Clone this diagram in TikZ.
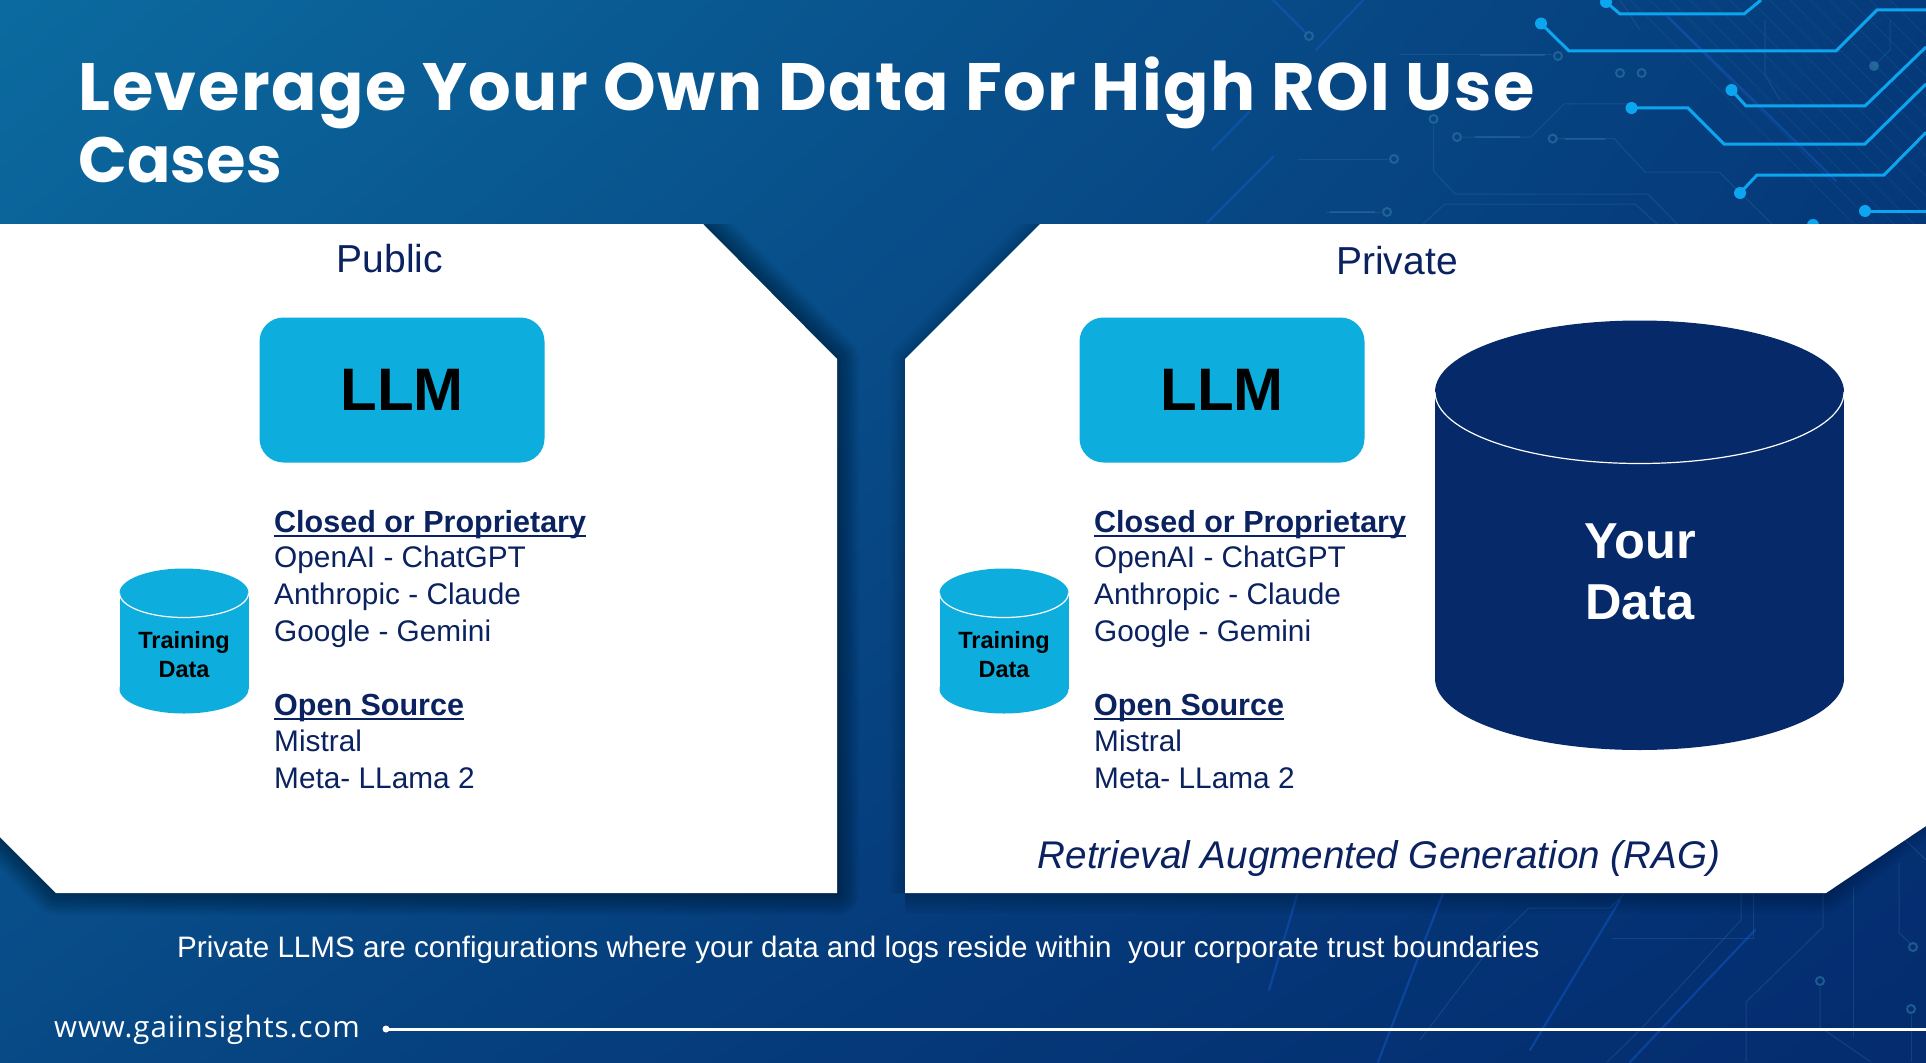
\documentclass[tikz,border=0pt]{standalone}
\usepackage{fontspec}
\usetikzlibrary{calc}
\setmainfont{Liberation Sans}
\newfontfamily\titlefont{Poppins}[UprightFont=* Bold]
\newfontfamily\titlewide{Poppins}[UprightFont=* Bold,LetterSpace=2.2]
\newfontfamily\urlfont{Open Sans}[LetterSpace=3.2]
\definecolor{navy}{HTML}{06296A}
\definecolor{textnavy}{HTML}{0B2260}
\definecolor{llmblue}{HTML}{0DADDD}
\definecolor{trace}{HTML}{0CA6F0}
\definecolor{faint}{HTML}{2F78A8}
\definecolor{glow}{HTML}{1560D8}
\pgfdeclarefunctionalshading{bgshade}{\pgfpoint{-50bp}{-50bp}}{\pgfpoint{50bp}{50bp}}{}{
 50 add 100 div 1.2 mul dup 1 gt {pop 1} if
 exch 50 add 100 div 1 exch sub
 2 copy mul
 3 1 roll
 dup dup mul mul 0.5 mul
 exch 1 exch sub mul
 add
 dup 0.05 mul 0.01 add exch
 dup 0.40 mul 0.14 add exch
 0.31 mul 0.41 add
}
\tikzset{
 x=1pt,y=-1pt,
 panel/.style={fill=white},
 llmbox/.style={fill=llmblue,rounded corners=24pt,minimum width=285pt,minimum height=145pt,inner sep=0pt,font=\fontsize{60}{60}\selectfont\bfseries,text=black},
 headline/.style={anchor=base,font=\fontsize{39}{39}\selectfont,text=textnavy,inner sep=0pt},
 listtext/.style={anchor=base west,font=\fontsize{29.8}{29.8}\selectfont,text=textnavy,inner sep=0pt},
 listhead/.style={anchor=base west,font=\fontsize{30.5}{30.5}\selectfont\bfseries,text=textnavy,inner sep=0pt},
 traceline/.style={draw=trace,line width=3pt},
 tracedot/.style={fill=trace},
 faintline/.style={draw=faint,line width=1pt,opacity=.3},
 faintring/.style={draw=faint,line width=2pt,opacity=.6},
 glowline/.style={draw=glow,line width=2.2pt,opacity=.4,line cap=round},
 cyltext/.style={anchor=base,font=\fontsize{23.5}{23.5}\selectfont\bfseries,text=black,inner sep=0pt},
 shadowpoly/.style={draw=black,opacity=.035,line join=round},
}
% args: centre x, top-ellipse y, bottom-ellipse y, rx, ry, colour
\newcommand{\drumshape}[6]{%
 \fill[#6] (#1,#3) ellipse [x radius=#4pt,y radius=#5pt];
 \fill[#6] (#1-#4,#2) rectangle (#1+#4,#3);
 \fill[#6] (#1,#2) ellipse [x radius=#4pt,y radius=#5pt];
 \draw[white,line width=1.2pt] (#1-#4,#2) arc [start angle=180,end angle=360,x radius=#4pt,y radius=#5pt];
}
\newcommand{\listing}[1]{%
 \begin{scope}[xshift=#1pt]
 \node[listhead] (a#1) at (274,532) {Closed or Proprietary};
 \draw[textnavy,line width=2pt] ($(a#1.base west)+(0,3.5)$) -- ($(a#1.base east)+(0,3.5)$);
 \node[listtext] (b#1) at (274,567.5) {OpenAI - ChatGPT};
 \node[listtext] (c#1) at (274,604.5) {Anthropic - Claude};
 \node[listtext] (d#1) at (274,641) {Google - Gemini};
 \node[listhead] (e#1) at (274,715) {Open Source};
 \draw[textnavy,line width=2pt] ($(e#1.base west)+(0,3.5)$) -- ($(e#1.base east)+(0,3.5)$);
 \node[listtext] (f#1) at (274,751) {Mistral};
 \node[listtext] (g#1) at (274,788) {Meta- LLama 2};
 \drumshape{184}{593}{689}{64.5}{24.5}{llmblue}
 \node[cyltext] (tr#1) at (184,648) {Training};
 \node[cyltext] (td#1) at (184,677) {Data};
 \node[llmbox] (llm#1) at (402,390) {LLM};
 \end{scope}}
\begin{document}
\begin{tikzpicture}
\useasboundingbox (0,0) rectangle (1926,1062);
\clip (0,0) rectangle (1926,1062);
% background
\shade[shading=bgshade] (0,0) rectangle (1926,1062);
% faint circuit texture, upper right
\foreach \i in {0,...,13} {
  \draw[faintline,opacity=.18] (1630+\i*20,0) -- ++(224,224);
}
\foreach \p in {
 {(1433.5,125) -- (1433.5,171) -- (1455,194) -- (1648,194) -- (1677,224)},
 {(1463,137) -- (1531,137) -- (1564,104) -- (1628,104)},
 {(1558,138.6) -- (1614,138.6) -- (1645,172) -- (1719,172) -- (1772,224)},
 {(1423,224) -- (1445,204) -- (1635,204) -- (1657,224)},
 {(1400,55) -- (1552,55)},
 {(1298,159) -- (1388,159)},
 {(1326,212) -- (1381,212)},
 {(1620,0) -- (1640,30)},
 {(1874,66) -- (1890,50) -- (1890,20)},
 {(1765,20) -- (1765,75) -- (1780,100)},
 {(1529,908) -- (1610,908) -- (1624,894)},
 {(1529,908) -- (1496,940) -- (1420,1040)},
 {(1612,938) -- (1753,938) -- (1753,893)},
 {(1741,893) -- (1741,920) -- (1640,1030) -- (1607,1062)},
 {(1823,893) -- (1823,927) -- (1746,1002) -- (1746,1062)},
 {(1853,887) -- (1853,1037)},
 {(1899,863) -- (1899,933) -- (1910,943)},
 {(1820,987) -- (1820,1027) -- (1871,1062)},
 {(1911,1015) -- (1911,1062)},
 {(1905,840) -- (1926,860)}} {
  \draw[faintline] \p;
}
\foreach \q/\r in {1558/56,1641.6/73,1433.5/119,1457/137,1552.7/138.6,1309/36,1394/159,1387/212,1620/73,1913/947,1820/981,1911/1009} {
  \draw[faintring] (\q,\r) circle [radius=4pt];
}
\fill[faint,opacity=.7] (1874,66) circle [radius=5pt];
% glowing diagonals
\foreach \p in {
 {(1668,17) -- (1836,181)},
 {(1273,0) -- (1305,32)},
 {(1363,0) -- (1316,50)},
 {(1208,222) -- (1273,157)},
 {(1212,150) -- (1249,112)},
 {(1443,893) -- (1378,1062)},
 {(1755,930) -- (1630,1062)},
 {(1297,895) -- (1269,990)},
 {(1620,900) -- (1530,1050)}} {
  \draw[glowline] \p;
}
\draw[faint,line width=2pt,opacity=.4] (1480,55) -- (1545,55);
\draw[faint,line width=2pt,opacity=.4] (1475,137) -- (1520,137);
\draw[faint,line width=2pt,opacity=.4] (1565,139) -- (1605,139);
\draw[faint,line width=2pt,opacity=.4] (1330,212) -- (1375,212);
% bright traces
\draw[traceline] (1606,2) -- (1620,14) -- (1744,14) -- (1761,0);
\draw[traceline] (1541,23.5) -- (1569,51) -- (1836,51) -- (1877,10) -- (1926,10);
\draw[traceline] (1731.5,90) -- (1746,106) -- (1865,106) -- (1926,47);
\draw[traceline] (1631.5,108) -- (1688,108) -- (1724,144) -- (1865,144) -- (1926,84);
\draw[traceline] (1740,193) -- (1757,175) -- (1884,175) -- (1926,132.5);
\draw[traceline] (1865,211) -- (1926,211);
\foreach \q/\r in {1606/2,1541/23.5,1731.5/90,1631.5/108,1740/193,1865/211,1813/225} {
  \fill[tracedot] (\q,\r) circle [radius=6pt];
}
% panel shadows, kept below the header
\begin{scope}
\clip (0,224) rectangle (1926,1062);
\foreach \w in {4,8,...,44} {
  \path[shadowpoly,line width=\w pt] (603,124) -- (837,359) -- (837,893) -- (56,893) -- (-50,787);
}
\foreach \w in {4,10,...,28} {
  \path[shadowpoly,line width=\w pt] (1140,124) -- (905,359) -- (905,893);
}
\foreach \w in {4,10,...,40} {
  \path[shadowpoly,line width=\w pt] (905,893) -- (1826,893) -- (1990,762);
}
\end{scope}
% panels
\fill[panel] (0,224) -- (703,224) -- (837,359) -- (837,893) -- (56,893) -- (0,837) -- cycle;
\fill[panel] (1040,224) -- (1926,224) -- (1926,826) -- (1826,893) -- (905,893) -- (905,359) -- cycle;
% title
\node[anchor=base west,inner sep=0pt,text=white,font=\titlewide\fontsize{67}{67}\selectfont] (title1) at (78.5,111) {Leverage Your Own Data For High ROI Use};
\node[anchor=base west,inner sep=0pt,text=white,font=\titlefont\fontsize{64}{64}\selectfont] (title2) at (78.5,182) {Cases};
% panel headings
\node[headline] (public) at (390,272) {Public};
\node[headline] (private) at (1397,274) {Private};
\listing{0}
\listing{820}
% big cylinder
\drumshape{1639.5}{392}{678.5}{204.5}{71.5}{navy}
\node[anchor=base,inner sep=0pt,text=white,font=\fontsize{50.5}{50.5}\selectfont\bfseries] (your) at (1640,558) {Your};
\node[anchor=base,inner sep=0pt,text=white,font=\fontsize{50.5}{50.5}\selectfont\bfseries] (data) at (1640,619) {Data};
% RAG
\node[anchor=base,inner sep=0pt,text=textnavy,font=\fontsize{38.6}{38.6}\selectfont\itshape] (rag) at (1379,868) {Retrieval Augmented Generation (RAG)};
% footer
\node[anchor=base west,inner sep=0pt,text=white,font=\fontsize{29.6}{29.6}\selectfont] (note) at (177,957) {Private LLMS are configurations where your data and logs reside within\ \ your corporate trust boundaries};
\node[anchor=base west,inner sep=0pt,text=white,font=\urlfont\fontsize{29.5}{29.5}\selectfont] (url) at (54,1037) {www.gaiinsights.com};
\coordinate (ruleend) at (1926,1029);
\node[circle,fill=white,inner sep=0pt,minimum size=7pt] (ruledot) at (386,1029) {};
\draw[white,line width=3pt] (ruledot.center) -- (ruleend);
\end{tikzpicture}
\end{document}
